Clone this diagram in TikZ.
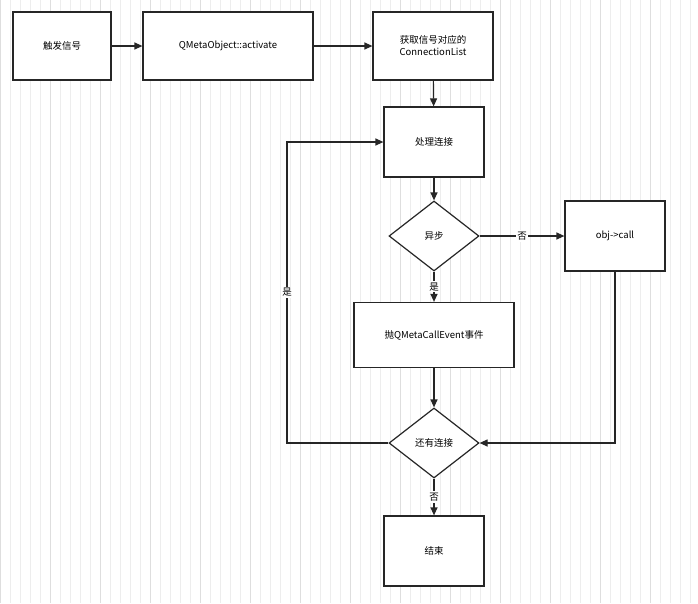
\documentclass[tikz,border=0pt]{standalone}
\usepackage{fontspec}
\setmainfont{Noto Sans CJK SC}
\usetikzlibrary{shapes.geometric,arrows.meta}
\begin{document}
\begin{tikzpicture}[x=1pt,y=-1pt,
  box/.style={draw=black!85,line width=1.2pt,fill=white,minimum width=#1,font=\fontsize{9.5}{12}\selectfont,align=center},
  box/.default=100pt,
  dia/.style={diamond,draw=black!85,line width=1.2pt,fill=white,minimum width=90pt,minimum height=70pt,aspect=1.3,inner sep=0pt,font=\fontsize{9.5}{12}\selectfont},
  arr/.style={draw=black!85,line width=1.2pt,-{Triangle[length=8pt,width=7pt]}},
  lab/.style={fill=white,inner sep=1.5pt,font=\fontsize{9.5}{12}\selectfont}]
\useasboundingbox (0,0) rectangle (698,603);
\fill[white] (0,0) rectangle (698,603);
\draw[black!7,line width=0.4pt,step=10] (0,0) grid (698,603);
\draw[black!13,line width=0.5pt,step=50] (0,0) grid (698,603);
\node[box=98pt,minimum height=68pt] (a) at (62,46) {触发信号};
\node[box=170pt,minimum height=68pt] (b) at (228,46) {QMetaObject::activate};
\node[box=120pt,minimum height=68pt] (c) at (433,46) {获取信号对应的\\ConnectionList};
\node[box,minimum height=70pt] (d) at (434,142) {处理连接};
\node[dia] (e) at (434,236) {异步};
\node[box,minimum height=70pt] (f) at (615,236) {obj->call};
\node[box=160pt,minimum height=65pt] (g) at (434,335) {抛QMetaCallEvent事件};
\node[dia] (h) at (434,443) {还有连接};
\node[box,minimum height=70pt] (i) at (434,551) {结束};
\draw[arr] (a) -- (b);
\draw[arr] (b) -- (c);
\draw[arr] (c) -- (d);
\draw[arr] (d) -- (e);
\draw[arr] (e) -- node[lab,pos=0.5] {否} (f);
\draw[arr] (e) -- node[lab,pos=0.5] {是} (g);
\draw[arr] (g) -- (h);
\draw[arr] (f.south) |- (h.east);
\draw[arr] (h.west) -- (287,443) -- node[lab,pos=0.5] {是} (287,142) -- (d.west);
\draw[arr] (h) -- node[lab,pos=0.5] {否} (i);
\end{tikzpicture}
\end{document}
